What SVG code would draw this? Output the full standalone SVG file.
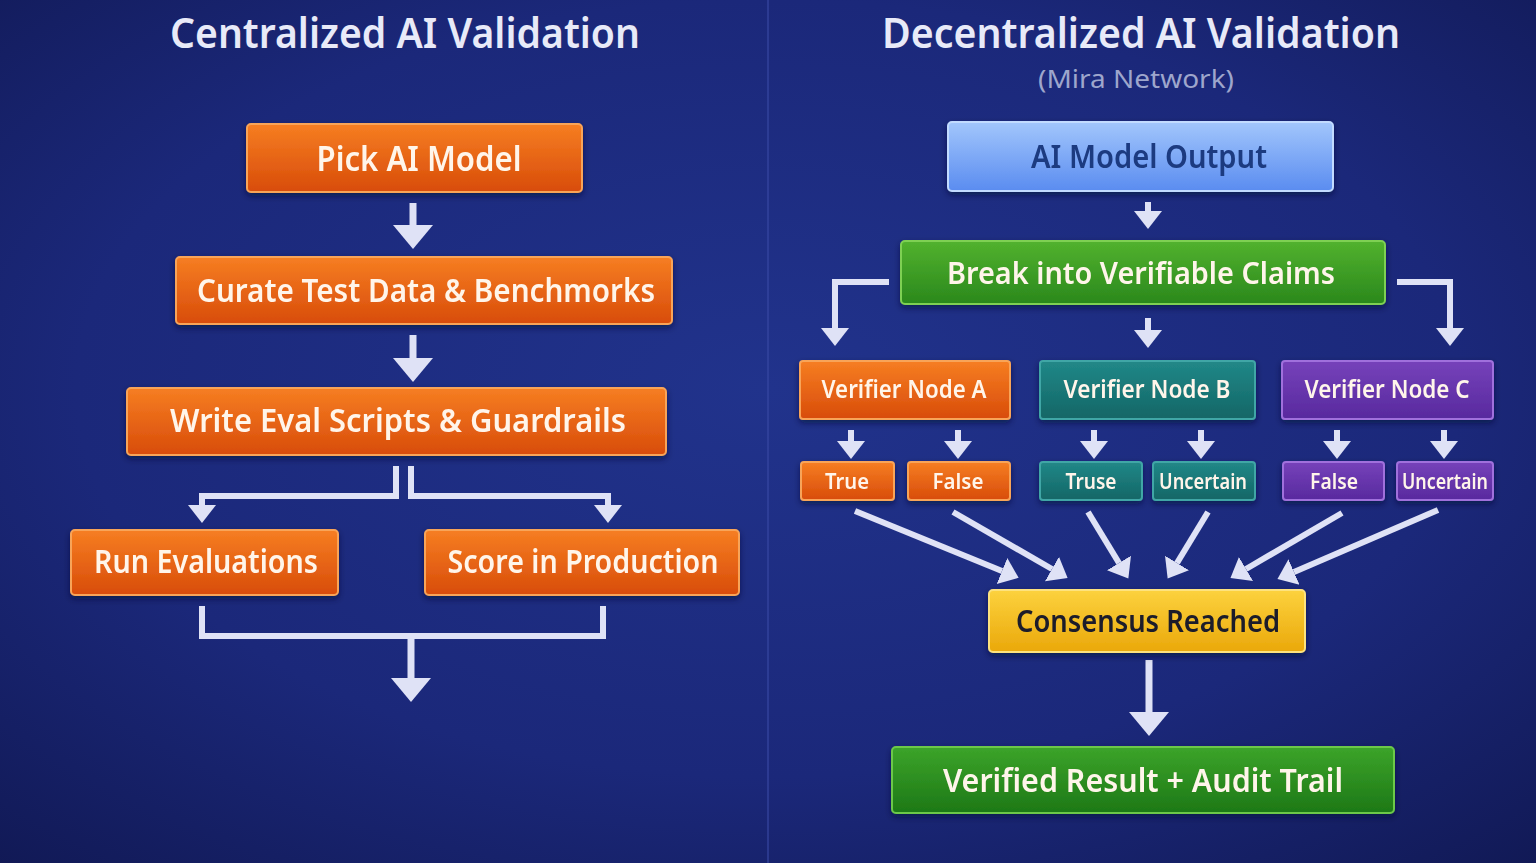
<svg xmlns="http://www.w3.org/2000/svg" width="1536" height="863" viewBox="0 0 1536 863">
<defs>
<radialGradient id="bg" cx="50%" cy="45%" r="75%">
<stop offset="0" stop-color="#21338c"/>
<stop offset="0.6" stop-color="#1b287a"/>
<stop offset="1" stop-color="#111955"/>
</radialGradient>
<linearGradient id="gOr" x1="0" y1="0" x2="0" y2="1"><stop offset="0" stop-color="#f67e22"/><stop offset="1" stop-color="#d84c0a"/></linearGradient>
<linearGradient id="gBl" x1="0" y1="0" x2="0" y2="1"><stop offset="0" stop-color="#a2c6fc"/><stop offset="1" stop-color="#5a8cf0"/></linearGradient>
<linearGradient id="gGr" x1="0" y1="0" x2="0" y2="1"><stop offset="0" stop-color="#52b22e"/><stop offset="1" stop-color="#2a881c"/></linearGradient>
<linearGradient id="gGr2" x1="0" y1="0" x2="0" y2="1"><stop offset="0" stop-color="#3ca42a"/><stop offset="1" stop-color="#1d7816"/></linearGradient>
<linearGradient id="gTe" x1="0" y1="0" x2="0" y2="1"><stop offset="0" stop-color="#218888"/><stop offset="1" stop-color="#136666"/></linearGradient>
<linearGradient id="gPu" x1="0" y1="0" x2="0" y2="1"><stop offset="0" stop-color="#7642ba"/><stop offset="1" stop-color="#58299e"/></linearGradient>
<linearGradient id="gYe" x1="0" y1="0" x2="0" y2="1"><stop offset="0" stop-color="#fcd23e"/><stop offset="1" stop-color="#eaa80a"/></linearGradient>
<filter id="sh" x="-10%" y="-20%" width="120%" height="150%">
<feDropShadow dx="0" dy="3" stdDeviation="3" flood-color="#050a30" flood-opacity="0.6"/>
</filter>
<marker id="hm" viewBox="0 0 30 30" markerWidth="30" markerHeight="30" refX="0" refY="15" orient="auto" markerUnits="userSpaceOnUse">
<path d="M0,1 L18,15 L0,29 z" fill="#dfe2f6"/>
</marker>
<marker id="hl" viewBox="0 0 44 44" markerWidth="44" markerHeight="44" refX="0" refY="22" orient="auto" markerUnits="userSpaceOnUse">
<path d="M0,2 L24,22 L0,42 z" fill="#dfe2f6"/>
</marker>
</defs>
<style>
.t{font-family:"Noto Sans","Open Sans","Liberation Sans",sans-serif;font-weight:600;text-anchor:middle}
.w{fill:#fff5ea}
.title{font-family:"Noto Sans","Open Sans","Liberation Sans",sans-serif;font-weight:600;fill:#e8eaf8;text-anchor:middle}
.sub{font-family:"Noto Sans","Open Sans","Liberation Sans",sans-serif;font-weight:400;fill:#9ea6cc;text-anchor:middle}
.box{stroke-width:2}
.c{fill:none;stroke:#dfe2f6;stroke-width:7}
.cs{fill:none;stroke:#dfe2f6;stroke-width:6}
</style>
<rect x="0" y="0" width="1536" height="863" fill="url(#bg)"/>
<line x1="768" y1="0" x2="768" y2="863" stroke="#3a4aa6" stroke-width="2" opacity="0.55"/>

<text class="title" x="405" y="48" font-size="42" textLength="470" lengthAdjust="spacingAndGlyphs">Centralized AI Validation</text>
<text class="title" x="1141" y="48" font-size="42" textLength="518" lengthAdjust="spacingAndGlyphs">Decentralized AI Validation</text>
<text class="sub" x="1136" y="88" font-size="25" textLength="196" lengthAdjust="spacingAndGlyphs">(Mira Network)</text>

<g id="connectors">
<path class="c" d="M413,203 V225" marker-end="url(#hl)"/>
<path class="c" d="M413,335 V358" marker-end="url(#hl)"/>
<path class="cs" d="M396,466 V496 H202 V505" marker-end="url(#hm)"/>
<path class="cs" d="M411,466 V496 H608 V505" marker-end="url(#hm)"/>
<path class="cs" d="M202,606 V636 H603 V606"/>
<path class="c" d="M411,636 V678" marker-end="url(#hl)"/>

<path class="cs" d="M1148,202 V211" marker-end="url(#hm)"/>
<path class="cs" d="M889,282 H835 V328" marker-end="url(#hm)"/>
<path class="cs" d="M1397,282 H1450 V328" marker-end="url(#hm)"/>
<path class="cs" d="M1148,318 V330" marker-end="url(#hm)"/>
<path class="cs" d="M851,430 V441" marker-end="url(#hm)"/>
<path class="cs" d="M958,430 V441" marker-end="url(#hm)"/>
<path class="cs" d="M1094,430 V441" marker-end="url(#hm)"/>
<path class="cs" d="M1201,430 V441" marker-end="url(#hm)"/>
<path class="cs" d="M1337,430 V441" marker-end="url(#hm)"/>
<path class="cs" d="M1444,430 V441" marker-end="url(#hm)"/>
<path class="cs" d="M855,511 L1002,571" marker-end="url(#hm)"/>
<path class="cs" d="M953,512 L1052,569" marker-end="url(#hm)"/>
<path class="cs" d="M1088,512 L1119,563" marker-end="url(#hm)"/>
<path class="cs" d="M1208,512 L1177,563" marker-end="url(#hm)"/>
<path class="cs" d="M1342,513 L1246,569" marker-end="url(#hm)"/>
<path class="cs" d="M1438,510 L1294,572" marker-end="url(#hm)"/>
<path class="c" d="M1149,660 V712" marker-end="url(#hl)"/>
</g>

<g id="pick" filter="url(#sh)">
<rect class="box" x="247" y="124" width="335" height="68" rx="4" fill="url(#gOr)" stroke="#f8a458"/>
<text class="t w" x="419" y="171" font-size="34" textLength="205" lengthAdjust="spacingAndGlyphs">Pick AI Model</text>
</g>
<g id="curate" filter="url(#sh)">
<rect class="box" x="176" y="257" width="496" height="67" rx="4" fill="url(#gOr)" stroke="#f8a458"/>
<text class="t w" x="426" y="302" font-size="33" textLength="458" lengthAdjust="spacingAndGlyphs">Curate Test Data &amp; Benchmorks</text>
</g>
<g id="write" filter="url(#sh)">
<rect class="box" x="127" y="388" width="539" height="67" rx="4" fill="url(#gOr)" stroke="#f8a458"/>
<text class="t w" x="398" y="432" font-size="33" textLength="456" lengthAdjust="spacingAndGlyphs">Write Eval Scripts &amp; Guardrails</text>
</g>
<g id="run" filter="url(#sh)">
<rect class="box" x="71" y="530" width="267" height="65" rx="4" fill="url(#gOr)" stroke="#f8a458"/>
<text class="t w" x="206" y="573" font-size="32" textLength="224" lengthAdjust="spacingAndGlyphs">Run Evaluations</text>
</g>
<g id="score" filter="url(#sh)">
<rect class="box" x="425" y="530" width="314" height="65" rx="4" fill="url(#gOr)" stroke="#f8a458"/>
<text class="t w" x="583" y="573" font-size="32" textLength="271" lengthAdjust="spacingAndGlyphs">Score in Production</text>
</g>

<g id="output" filter="url(#sh)">
<rect class="box" x="948" y="122" width="385" height="69" rx="4" fill="url(#gBl)" stroke="#c2dbff"/>
<text class="t" x="1149" y="168" font-size="33" fill="#1d3a80" textLength="236" lengthAdjust="spacingAndGlyphs">AI Model Output</text>
</g>
<g id="break" filter="url(#sh)">
<rect class="box" x="901" y="241" width="484" height="63" rx="4" fill="url(#gGr)" stroke="#7ed052"/>
<text class="t w" x="1141" y="284" font-size="31" textLength="388" lengthAdjust="spacingAndGlyphs">Break into Verifiable Claims</text>
</g>
<g id="nodeA" filter="url(#sh)">
<rect class="box" x="800" y="361" width="210" height="58" rx="3" fill="url(#gOr)" stroke="#f8a458"/>
<text class="t w" x="904" y="398" font-size="25" textLength="165" lengthAdjust="spacingAndGlyphs">Verifier Node A</text>
</g>
<g id="nodeB" filter="url(#sh)">
<rect class="box" x="1040" y="361" width="215" height="58" rx="3" fill="url(#gTe)" stroke="#3fa6a6"/>
<text class="t w" x="1147" y="398" font-size="25" textLength="167" lengthAdjust="spacingAndGlyphs">Verifier Node B</text>
</g>
<g id="nodeC" filter="url(#sh)">
<rect class="box" x="1282" y="361" width="211" height="58" rx="3" fill="url(#gPu)" stroke="#a070dc"/>
<text class="t w" x="1387" y="398" font-size="25" textLength="165" lengthAdjust="spacingAndGlyphs">Verifier Node C</text>
</g>
<g id="aTrue" filter="url(#sh)">
<rect class="box" x="801" y="462" width="93" height="38" rx="3" fill="url(#gOr)" stroke="#f8a458"/>
<text class="t w" x="847" y="489" font-size="22" textLength="44" lengthAdjust="spacingAndGlyphs">True</text>
</g>
<g id="aFalse" filter="url(#sh)">
<rect class="box" x="908" y="462" width="102" height="38" rx="3" fill="url(#gOr)" stroke="#f8a458"/>
<text class="t w" x="958" y="489" font-size="22" textLength="51" lengthAdjust="spacingAndGlyphs">False</text>
</g>
<g id="bTrue" filter="url(#sh)">
<rect class="box" x="1040" y="462" width="102" height="38" rx="3" fill="url(#gTe)" stroke="#3fa6a6"/>
<text class="t w" x="1091" y="489" font-size="22" textLength="51" lengthAdjust="spacingAndGlyphs">Truse</text>
</g>
<g id="bUnc" filter="url(#sh)">
<rect class="box" x="1153" y="462" width="102" height="38" rx="3" fill="url(#gTe)" stroke="#3fa6a6"/>
<text class="t w" x="1203" y="489" font-size="22" textLength="88" lengthAdjust="spacingAndGlyphs">Uncertain</text>
</g>
<g id="cFalse" filter="url(#sh)">
<rect class="box" x="1283" y="462" width="101" height="38" rx="3" fill="url(#gPu)" stroke="#a070dc"/>
<text class="t w" x="1334" y="489" font-size="22" textLength="48" lengthAdjust="spacingAndGlyphs">False</text>
</g>
<g id="cUnc" filter="url(#sh)">
<rect class="box" x="1397" y="462" width="96" height="38" rx="3" fill="url(#gPu)" stroke="#a070dc"/>
<text class="t w" x="1445" y="489" font-size="22" textLength="86" lengthAdjust="spacingAndGlyphs">Uncertain</text>
</g>
<g id="consensus" filter="url(#sh)">
<rect class="box" x="989" y="590" width="316" height="62" rx="4" fill="url(#gYe)" stroke="#fde27e"/>
<text class="t" x="1148" y="632" font-size="31" fill="#1b1c2c" textLength="264" lengthAdjust="spacingAndGlyphs">Consensus Reached</text>
</g>
<g id="verified" filter="url(#sh)">
<rect class="box" x="892" y="747" width="502" height="66" rx="4" fill="url(#gGr2)" stroke="#6cc84a"/>
<text class="t w" x="1143" y="792" font-size="33" textLength="400" lengthAdjust="spacingAndGlyphs">Verified Result + Audit Trail</text>
</g>
</svg>
